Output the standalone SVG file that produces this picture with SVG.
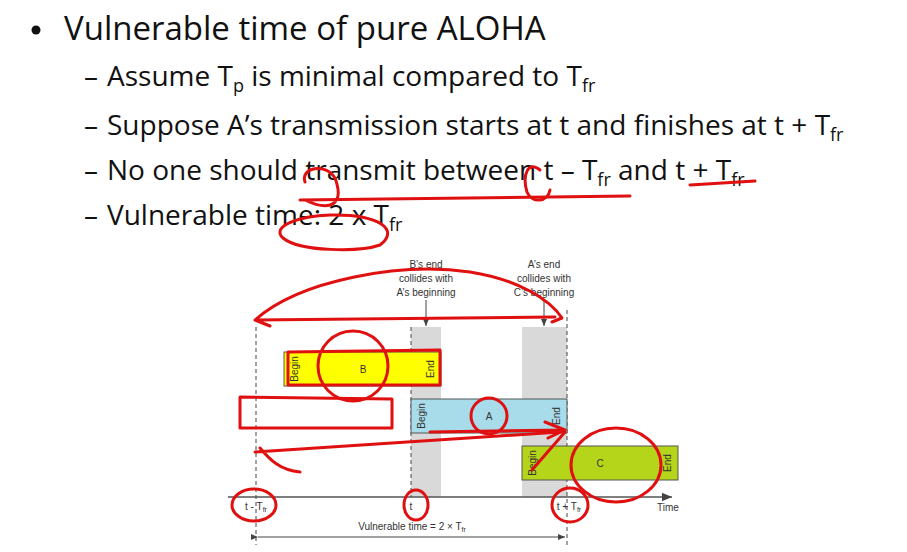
<svg xmlns="http://www.w3.org/2000/svg" width="907" height="552" viewBox="0 0 907 552">
<style>
.t{font-family:"Open Sans","Liberation Sans",sans-serif;fill:#111}
.h{font-size:33px}.s{font-size:28px}.sub{font-size:18px}
.d{font-family:"Liberation Sans",sans-serif;font-size:10px;fill:#333}
.box{stroke:#555;stroke-width:1}
.dash{stroke:#444;stroke-width:1;stroke-dasharray:4,3}
.red{fill:none;stroke:#e01010;stroke-width:3;stroke-linecap:round;stroke-linejoin:round}
</style>
<defs><marker id="ar" markerWidth="8" markerHeight="8" refX="7" refY="4" orient="auto"><path d="M0,1L7,4L0,7z" fill="#444"/></marker></defs>
<rect width="907" height="552" fill="#fff"/>
<g id="text">
<circle cx="36" cy="30" r="4.5" fill="#111"/>
<text class="t h" x="64" y="40">Vulnerable time of pure ALOHA</text>
<text class="t s" x="84" y="86">–</text><text class="t s" x="107" y="86">Assume T<tspan class="sub" dy="6">p</tspan><tspan dy="-6"> is minimal compared to T</tspan><tspan class="sub" dy="6">fr</tspan></text>
<text class="t s" x="84" y="135">–</text><text class="t s" x="107" y="135">Suppose A’s transmission starts at t and finishes at t + T<tspan class="sub" dy="6">fr</tspan></text>
<text class="t s" x="84" y="180">–</text><text class="t s" x="107" y="180">No one should transmit between t – T<tspan class="sub" dy="6">fr</tspan><tspan dy="-6"> and t + T</tspan><tspan class="sub" dy="6">fr</tspan></text>
<text class="t s" x="84" y="225">–</text><text class="t s" x="107" y="225">Vulnerable time: 2 x T<tspan class="sub" dy="6">fr</tspan></text>
</g>
<g id="bands">
<rect x="411" y="327" width="30" height="170" fill="#d9d9d9"/>
<rect x="522" y="327" width="45" height="170" fill="#d9d9d9"/>
<line class="dash" x1="256" y1="327" x2="256" y2="545"/>
<line class="dash" x1="411" y1="327" x2="411" y2="497"/>
<line class="dash" x1="567" y1="310" x2="567" y2="545"/>
</g>
<g id="B"><rect class="box" x="284" y="352" width="157" height="34" fill="#ffff00"/>
<text class="d" x="363" y="373" text-anchor="middle">B</text>
<text class="d" transform="translate(298,369) rotate(-90)" text-anchor="middle">Begin</text>
<text class="d" transform="translate(434,369) rotate(-90)" text-anchor="middle">End</text></g>
<g id="A"><rect class="box" x="411" y="399" width="156" height="34" fill="#a8dcea"/>
<text class="d" x="489" y="420" text-anchor="middle">A</text>
<text class="d" transform="translate(425,416) rotate(-90)" text-anchor="middle">Begin</text>
<text class="d" transform="translate(560,416) rotate(-90)" text-anchor="middle">End</text></g>
<g id="C"><rect class="box" x="522" y="446" width="156" height="34" fill="#b5d51a"/>
<text class="d" x="600" y="467" text-anchor="middle">C</text>
<text class="d" transform="translate(536,463) rotate(-90)" text-anchor="middle">Begin</text>
<text class="d" transform="translate(671,463) rotate(-90)" text-anchor="middle">End</text></g>
<g id="labels">
<text class="d" text-anchor="middle"><tspan x="426" y="268">B’s end</tspan><tspan x="426" y="282">collides with</tspan><tspan x="426" y="296">A’s beginning</tspan></text>
<text class="d" text-anchor="middle"><tspan x="544" y="268">A’s end</tspan><tspan x="544" y="282">collides with</tspan><tspan x="544" y="296">C’s beginning</tspan></text>
<text class="d" x="256" y="510" text-anchor="middle">t - T<tspan font-size="7" dy="2">fr</tspan></text>
<text class="d" x="411" y="510" text-anchor="middle">t</text>
<text class="d" x="569" y="510" text-anchor="middle">t + T<tspan font-size="7" dy="2">fr</tspan></text>
<text class="d" x="668" y="511" text-anchor="middle">Time</text>
<text class="d" x="412" y="530" text-anchor="middle">Vulnerable time = 2 × T<tspan font-size="7" dy="2">fr</tspan></text>
</g>
<g id="connectors">
<line x1="426" y1="300" x2="426" y2="326" stroke="#444" marker-end="url(#ar)"/>
<line x1="544" y1="300" x2="544" y2="326" stroke="#444" marker-end="url(#ar)"/>
<line x1="228" y1="497" x2="672" y2="497" stroke="#555" stroke-width="1.5" marker-end="url(#ar)"/>
<line x1="258" y1="537" x2="565" y2="537" stroke="#444" marker-start="url(#ar)" marker-end="url(#ar)"/>
</g>
<g id="annotations">
<path class="red" d="M305,182 C300,168 325,162 335,178 C345,205 330,212 305,200 M300,200 L630,196"/>
<path class="red" d="M540,170 C528,160 522,175 527,192 C532,204 548,202 550,190"/>
<path class="red" d="M690,185 L755,181"/>
<path class="red" d="M283,238 C270,226 300,216 330,215 C380,214 400,230 380,245 M283,238 C300,252 360,252 380,245"/>
<path class="red" d="M255,320 L555,317 M255,320 C300,280 400,262 470,272 C520,280 550,300 562,318 L552,322 M255,320 L270,326"/>
<path class="red" d="M288,352 L440,350 L440,385 L288,385 Z"/>
<circle class="red" cx="353" cy="366" r="35"/>
<path class="red" d="M240,397 L392,399 L392,428 L240,428 Z"/>
<circle class="red" cx="489" cy="416" r="18"/>
<path class="red" d="M430,432 L565,430 M545,422 L565,430 L548,438 M255,452 L560,432 M260,448 C270,460 280,470 300,472"/>
<path class="red" d="M532,470 L565,432"/>
<ellipse class="red" cx="616" cy="465" rx="45" ry="37"/>
<ellipse class="red" cx="254" cy="505" rx="22" ry="16"/>
<ellipse class="red" cx="416" cy="505" rx="12" ry="15"/>
<ellipse class="red" cx="570" cy="505" rx="18" ry="17"/>
</g>
</svg>
